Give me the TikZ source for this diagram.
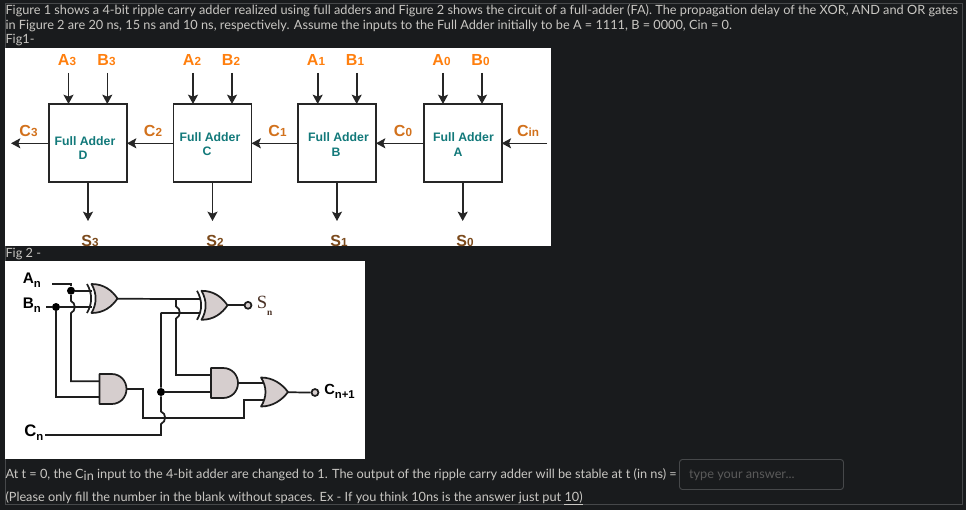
\documentclass[tikz,border=0pt]{standalone}
\usepackage{fontspec}
\setmainfont{Lato}
\newfontfamily\lblfont{Liberation Sans}
\newfontfamily\snfont{Liberation Serif}
\usetikzlibrary{arrows.meta}
\definecolor{pagebg}{HTML}{191B1D}
\definecolor{pagetext}{HTML}{C9C7C3}
\definecolor{framecol}{HTML}{46484A}
\definecolor{holdercol}{HTML}{5A5A5A}
\definecolor{inorange}{HTML}{FF7F0E}
\definecolor{carryorange}{HTML}{D2711C}
\definecolor{sumbrown}{HTML}{7B4A1C}
\definecolor{faTeal}{HTML}{12797A}
\definecolor{gatefill}{HTML}{D6CECE}
\definecolor{wirecol}{HTML}{1E1E1E}
\definecolor{snbrown}{HTML}{4A3226}
\tikzset{
  x=0.75pt,y=-0.75pt,
  pagetxt/.style={anchor=base west,inner sep=0pt,outer sep=0pt,text=pagetext,font=\fontsize{9.55pt}{11pt}\selectfont},
  fabox/.style={draw=black!85,line width=1.3pt,fill=white,minimum width=58.5pt,minimum height=58.5pt,inner sep=0pt,outer sep=0pt},
  faname/.style={inner sep=0pt,text=faTeal,font=\lblfont\bfseries\fontsize{9.2pt}{11pt}\selectfont},
  inlabel/.style={inner sep=0pt,text=inorange,font=\lblfont\bfseries\fontsize{12pt}{13pt}\selectfont},
  carrylabel/.style={inner sep=0pt,text=carryorange,font=\lblfont\bfseries\fontsize{12pt}{13pt}\selectfont},
  sumlabel/.style={anchor=base,inner sep=0pt,text=sumbrown,font=\lblfont\bfseries\fontsize{12pt}{13pt}\selectfont},
  faarrow/.style={draw=black!85,line width=1.2pt,-{Stealth[length=7pt,width=7.5pt,inset=1.5pt]}},
  wire/.style={draw=wirecol,line width=1.3pt,line join=miter},
  gateline/.style={draw=wirecol,line width=1.3pt,fill=gatefill,line join=round},
  joint/.style={circle,fill=black,inner sep=0pt,minimum size=6pt},
  probe/.style={circle,draw=wirecol,line width=1.3pt,fill=gatefill,inner sep=0pt,minimum size=5.2pt},
  pinlabel/.style={anchor=west,inner sep=0pt,text=black,font=\lblfont\fontsize{11.5pt}{12pt}\selectfont},
}
\newcommand{\subd}[1]{{\fontsize{8.8pt}{9pt}\selectfont #1}}
\newcommand{\subn}[1]{\raisebox{-3pt}{\fontsize{8.5pt}{9pt}\selectfont #1}}
\newcommand{\xorgate}[2]{%
  \begin{scope}[shift={(#1,#2)}]
    \path[gateline] (4.5,-14.5) .. controls (17,-14.5) and (25,-8) .. (30.5,0)
      .. controls (25,8) and (17,14.5) .. (4.5,14.5)
      .. controls (10,5) and (10,-5) .. (4.5,-14.5) -- cycle;
    \draw[wire,fill=none] (0,-14.5) .. controls (5.5,-5) and (5.5,5) .. (0,14.5);
  \end{scope}}
\newcommand{\orgate}[2]{%
  \begin{scope}[shift={(#1,#2)}]
    \path[gateline] (0,-14.5) .. controls (12,-14.5) and (21,-8) .. (27,0)
      .. controls (21,8) and (12,14.5) .. (0,14.5)
      .. controls (6,5) and (6,-5) .. (0,-14.5) -- cycle;
  \end{scope}}
\newcommand{\andgate}[2]{%
  \begin{scope}[shift={(#1,#2)}]
    \path[gateline] (0,-15) -- (12,-15) .. controls (21,-15) and (27,-8) .. (27,0)
      .. controls (27,8) and (21,15) .. (12,15) -- (0,15) -- cycle;
  \end{scope}}
\begin{document}
\begin{tikzpicture}
\useasboundingbox (0,0) rectangle (966,510);
\fill[pagebg] (0,0) rectangle (966,510);
\draw[framecol,line width=0.6pt] (5,3.5) rectangle (962.5,504);

% page text
\node[pagetxt] (line1) at (5.5,14.5) {Figure 1 shows a 4-bit ripple carry adder realized using full adders and Figure 2 shows the circuit of a full-adder (FA). The propagation delay of the XOR, AND and OR gates};
\node[pagetxt] (line2) at (5.5,29.5) {in Figure 2 are 20 ns, 15 ns and 10 ns, respectively. Assume the inputs to the Full Adder initially to be A = 1111, B = 0000, Cin = 0.};
\node[pagetxt] (line3) at (5.5,44) {Fig1-};
\node[pagetxt] (line4) at (5.5,257.5) {Fig 2 -};
\node[pagetxt] (line5) at (5.5,478) {At t = 0, the C\raisebox{-2.2pt}{in} input to the 4-bit adder are changed to 1. The output of the ripple carry adder will be stable at t (in ns) =};
\node[pagetxt] (line6) at (5.5,501) {(Please only fill the number in the blank without spaces. Ex - If you think 10ns is the answer just put \underline{10)}};
\draw[framecol,line width=0.7pt,rounded corners=2.2pt] (679.5,459.5) rectangle (843.5,489.5);
\node[pagetxt,text=holdercol] (holder) at (689,478) {type your answer...};

% figure 1
\fill[white] (5,48) rectangle (551,246);
\node[fabox] (fad) at (88,143) {};
\node[fabox] (fac) at (212.5,143) {};
\node[fabox] (fab) at (337,143) {};
\node[fabox] (faa) at (462.7,143) {};
\node[faname] (fadt) at (85,141) {Full Adder};
\node[faname] (fadl) at (83,155) {D};
\node[faname] (fact) at (210,137) {Full Adder};
\node[faname] (facl) at (207,151.5) {C};
\node[faname] (fabt) at (338.5,137) {Full Adder};
\node[faname] (fabl) at (336,152) {B};
\node[faname] (faat) at (463.5,137) {Full Adder};
\node[faname] (faal) at (458,152) {A};

\node[inlabel] (a3) at (67,60) {A\subd{3}};
\node[inlabel] (b3) at (106.5,60) {B\subd{3}};
\node[inlabel] (a2) at (192,60) {A\subd{2}};
\node[inlabel] (b2) at (231,60) {B\subd{2}};
\node[inlabel] (a1) at (316,60) {A\subd{1}};
\node[inlabel] (b1) at (355,60) {B\subd{1}};
\node[inlabel] (a0) at (441.5,60) {A\subd{0}};
\node[inlabel] (b0) at (480.5,60) {B\subd{0}};
\node[carrylabel] (c3) at (28.5,131) {C\subd{3}};
\node[carrylabel] (c2) at (153,131) {C\subd{2}};
\node[carrylabel] (c1) at (277.5,131) {C\subd{1}};
\node[carrylabel] (c0) at (403,131) {C\subd{0}};
\node[carrylabel] (cin) at (528,131) {C\subd{in}};
\node[sumlabel] (s3) at (90,246) {S\subd{3}};
\node[sumlabel] (s2) at (215,246) {S\subd{2}};
\node[sumlabel] (s1) at (339,246) {S\subd{1}};
\node[sumlabel] (s0) at (465,246) {S\subd{0}};

\foreach \from/\xx/\to in {a3/68.5/fad,b3/107.3/fad,a2/193/fac,b2/232/fac,a1/317.7/fab,b1/356.7/fab,a0/443/faa,b0/482/faa}{
  \coordinate (\from s) at (\xx,73);
  \draw[faarrow] (\from s) -- (\from s |- \to.north);
}
\coordinate (c3end) at (11,143.3);
\coordinate (cinstart) at (547,143.3);
\draw[faarrow] (fad.west |- c3end) -- (c3end);
\draw[faarrow] (fac.west |- c3end) -- (fad.east |- c3end);
\draw[faarrow] (fab.west |- c3end) -- (fac.east |- c3end);
\draw[faarrow] (faa.west |- c3end) -- (fab.east |- c3end);
\draw[faarrow] (cinstart) -- (faa.east |- cinstart);
\foreach \bx in {fad,fac,fab,faa}{
  \coordinate (\bx o) at (\bx.south);
  \draw[faarrow] (\bx o) -- ++(0,39);
}

% figure 2
\fill[white] (5,261) rectangle (365,459);
\coordinate (anS) at (52,284);
\coordinate (bnS) at (46,307);
\coordinate (anD) at (71,290.7);
\coordinate (bnD) at (56,307);
\coordinate (xa) at (92,290.7);
\coordinate (xb) at (92,307);
\coordinate (xo) at (200,299);
\coordinate (x2b) at (200,312.7);
\coordinate (x2o) at (228,305.3);
\coordinate (v1t) at (161,312.7);
\coordinate (and2a) at (211,375);
\coordinate (and2b) at (211,392);
\coordinate (and2o) at (238,382.7);
\coordinate (or1a) at (265,382.7);
\coordinate (or1b) at (265,400);
\coordinate (or1o) at (288,392.3);
\coordinate (and1a) at (100,381.3);
\coordinate (and1b) at (100,397);
\coordinate (and1o) at (126,389);
\coordinate (cnS) at (45,435);

\node[joint] (jan) at (anD) {};
\node[joint] (jbn) at (bnD) {};
\node[joint] (jcn) at (161,392) {};
\node[probe] (pS) at (248,305.3) {};
\node[probe] (pC) at (315,392.5) {};

\draw[wire] (anS) -- (71,284) -- (jan);
\draw[wire] (jan) -- (xa);
\draw[wire] (bnS) -- (jbn) -- (xb);
\draw[wire] (jan) -- (71,301) .. controls (76,303) and (76,311) .. (71,313) -- (71,381.3) -- (and1a);
\draw[wire] (jbn) -- (56,397) -- (and1b);
\draw[wire] (117,298.8) -- (xo);
\draw[wire] (176,299) -- (176,306.5) .. controls (181,308.5) and (181,316.5) .. (176,318.5) -- (176,375) -- (and2a);
\draw[wire] (v1t) -- (x2b);
\draw[wire] (v1t) -- (jcn) -- (161,411.5) .. controls (166.5,413.5) and (166.5,421.5) .. (161,424) -- (161,435) -- (cnS);
\draw[wire] (jcn) -- (and2b);
\draw[wire] (and1o) -- (143,389) -- (143,417.7) -- (244,417.7) -- (244,400) -- (or1b);
\draw[wire] (and2o) -- (or1a);
\draw[wire] (x2o) -- (pS);
\draw[wire] (or1o) -- (pC);

\xorgate{87}{298.5}
\xorgate{197}{305.3}
\andgate{99.5}{389}
\andgate{211}{383}
\orgate{261}{392}

\node[pinlabel,font=\lblfont\bfseries\fontsize{11.5pt}{12pt}\selectfont] (lan) at (22.5,280) {A\subn{n}};
\node[pinlabel,font=\lblfont\bfseries\fontsize{11.5pt}{12pt}\selectfont] (lbn) at (22.5,305) {B\subn{n}};
\node[pinlabel,font=\lblfont\bfseries\fontsize{12.5pt}{13pt}\selectfont] (lcn) at (24,433) {C\subn{n}};
\node[pinlabel,text=snbrown,font=\snfont\fontsize{14pt}{15pt}\selectfont] (lsn) at (256.5,306) {S\raisebox{-5.5pt}{\bfseries\fontsize{7pt}{8pt}\selectfont n}};
\node[pinlabel,font=\lblfont\bfseries\fontsize{11pt}{12pt}\selectfont] (lcp) at (324,391) {C\subn{n+1}};
\end{tikzpicture}
\end{document}
